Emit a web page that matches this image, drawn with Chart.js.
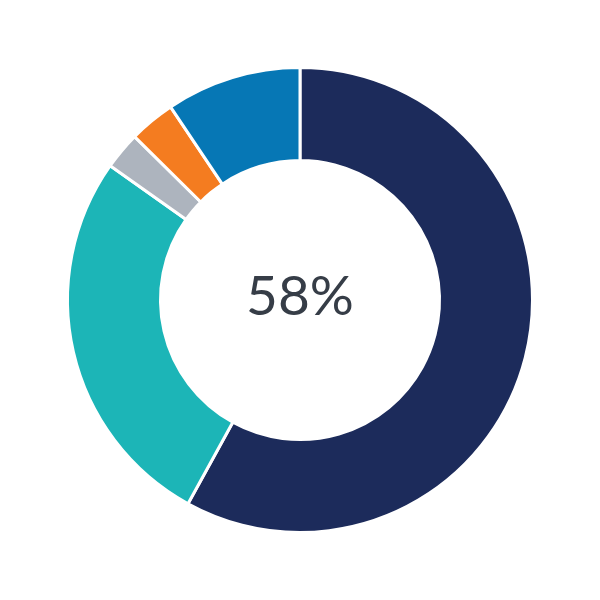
<!DOCTYPE html>
<html>
<head>
<meta charset="utf-8">
<script src="https://cdn.jsdelivr.net/npm/chart.js@4/dist/chart.umd.min.js"></script>
<style>
  html, body { margin: 0; padding: 0; background: #fff; }
  #wrap { width: 600px; height: 600px; }
</style>
</head>
<body>
<div id="wrap"><canvas id="donutChart"></canvas></div>
<script>
const labels = ["Navy", "Teal", "Gray", "Orange", "Blue"];
const shares = [58, 26.8, 2.6, 3.2, 9.4];
const colors = ["#1c2b5b", "#1cb5b7", "#adb4be", "#f47c20", "#0677b5"];
const centerLabel = "58%";

const centerText = {
    id: "centerText",
    afterDraw(chart) {
        const ctx = chart.ctx;
        const meta = chart.getDatasetMeta(0);
        const arc = meta.data[0];
        ctx.save();
        ctx.font = "400 55px Lato";
        ctx.fillStyle = "#363d47";
        ctx.textAlign = "center";
        ctx.textBaseline = "alphabetic";
        ctx.fillText(centerLabel, arc.x, arc.y + 15);
        ctx.restore();
    }
};

new Chart(document.getElementById("donutChart"), {
    type: "doughnut",
    data: {
        labels: labels,
        datasets: [{
            data: shares,
            backgroundColor: colors,
            borderColor: "#ffffff",
            borderWidth: 3
        }]
    },
    options: {
        responsive: true,
        maintainAspectRatio: false,
        animation: false,
        cutout: "60%",
        layout: { padding: 66 },
        plugins: {
            legend: { display: false },
            tooltip: { enabled: false }
        }
    },
    plugins: [centerText]
});
</script>
</body>
</html>
